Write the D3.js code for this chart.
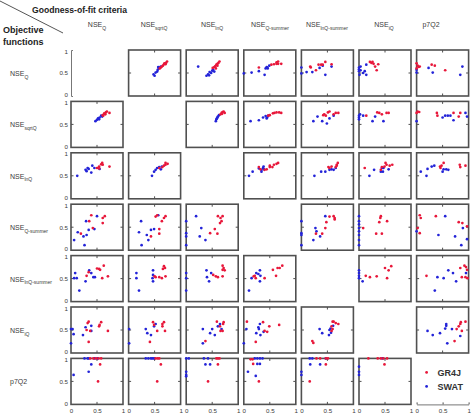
<!DOCTYPE html>
<html><head><meta charset="utf-8">
<script src="https://cdn.jsdelivr.net/npm/d3@7"></script>
<style>
body{margin:0;background:#fff;}
svg{display:block;font-family:"Liberation Sans",Arial,sans-serif;}
</style></head>
<body><svg id="chart" width="474" height="417"></svg>
<script>
// ---- metrics (rows = objective functions, columns = goodness-of-fit criteria)
const metricBase = ["NSE","NSE","NSE","NSE","NSE","NSE","p7Q2"];
const metricSub  = ["Q","sqrtQ","lnQ","Q-summer","lnQ-summer","iQ",""];
const axisTicks = [0, 0.5, 1];
const axisTickLabels = ["0","0.5","1"];
const seriesNames = ["GR4J","SWAT"];
const seriesColors = ["#e8173a","#2323d8"];

// ---- panel data: rRcC_gr = GR4J points, rRcC_sw = SWAT points, [x, y]
const r1c2_gr=[[0.74,0.75],[0.72,0.72],[0.70,0.70],[0.68,0.69],[0.66,0.66],[0.64,0.64],[0.62,0.62],[0.60,0.60],[0.71,0.69],[0.69,0.71]];
const r1c2_sw=[[0.60,0.62],[0.58,0.60],[0.56,0.57],[0.52,0.51],[0.48,0.47],[0.50,0.44],[0.62,0.64],[0.55,0.53],[0.57,0.63]];
const r1c3_gr=[[0.51,0.61],[0.54,0.63],[0.56,0.65],[0.58,0.68],[0.60,0.70],[0.62,0.72],[0.64,0.75],[0.60,0.66],[0.57,0.60]];
const r1c3_sw=[[0.23,0.64],[0.39,0.44],[0.42,0.47],[0.45,0.52],[0.48,0.50],[0.50,0.55],[0.52,0.57],[0.54,0.53],[0.44,0.45]];
const r1c4_gr=[[0.29,0.62],[0.53,0.68],[0.63,0.73],[0.66,0.70],[0.72,0.70],[0.66,0.75],[0.58,0.69],[0.63,0.70]];
const r1c4_sw=[[0.00,0.49],[0.15,0.51],[0.29,0.54],[0.40,0.46],[0.42,0.60],[0.44,0.63],[0.46,0.60],[0.49,0.66],[0.45,0.62]];
const r1c5_gr=[[0.17,0.64],[0.18,0.62],[0.28,0.56],[0.33,0.68],[0.38,0.68],[0.41,0.68],[0.46,0.74],[0.58,0.69]];
const r1c5_sw=[[0.00,0.62],[0.00,0.49],[0.10,0.52],[0.21,0.52],[0.35,0.61],[0.41,0.66],[0.46,0.46],[0.58,0.64]];
const r1c6_gr=[[0.21,0.74],[0.24,0.72],[0.28,0.70],[0.31,0.64],[0.37,0.69],[0.34,0.56],[0.26,0.74]];
const r1c6_sw=[[0.00,0.54],[0.00,0.58],[0.00,0.62],[0.03,0.64],[0.03,0.56],[0.01,0.46],[0.11,0.54],[0.14,0.68],[0.14,0.46],[0.08,0.50]];
const r1c7_gr=[[0.00,0.71],[0.02,0.66],[0.04,0.63],[0.00,0.60],[0.06,0.64],[0.29,0.68],[0.35,0.66],[0.55,0.56]];
const r1c7_sw=[[0.00,0.57],[0.00,0.51],[0.23,0.61],[0.31,0.51],[0.84,0.46],[0.88,0.64]];

const r2c1_gr=[[0.61,0.70],[0.64,0.74],[0.67,0.76],[0.69,0.78],[0.74,0.75],[0.62,0.69],[0.66,0.72]];
const r2c1_sw=[[0.47,0.57],[0.50,0.60],[0.52,0.63],[0.55,0.65],[0.58,0.69],[0.54,0.61],[0.60,0.67]];
const r2c3_gr=[[0.68,0.75],[0.70,0.77],[0.72,0.78],[0.74,0.75],[0.66,0.72],[0.69,0.73]];
const r2c3_sw=[[0.57,0.57],[0.58,0.61],[0.60,0.65],[0.61,0.67],[0.63,0.70],[0.59,0.63]];
const r2c4_gr=[[0.47,0.69],[0.50,0.70],[0.56,0.74],[0.59,0.75],[0.63,0.76],[0.68,0.76],[0.72,0.75]];
const r2c4_sw=[[0.13,0.57],[0.29,0.59],[0.37,0.65],[0.42,0.68],[0.44,0.63],[0.45,0.65],[0.47,0.69]];
const r2c5_gr=[[0.42,0.70],[0.44,0.72],[0.47,0.69],[0.51,0.76],[0.54,0.78],[0.62,0.72],[0.66,0.75],[0.71,0.75]];
const r2c5_sw=[[0.23,0.57],[0.31,0.67],[0.40,0.57],[0.49,0.52],[0.54,0.63],[0.62,0.69]];
const r2c6_gr=[[0.14,0.69],[0.35,0.76],[0.39,0.75],[0.44,0.72],[0.53,0.75],[0.57,0.75]];
const r2c6_sw=[[0.00,0.61],[0.00,0.65],[0.00,0.69],[0.02,0.72],[0.08,0.69],[0.26,0.57],[0.31,0.67],[0.47,0.57]];
const r2c7_gr=[[0.00,0.75],[0.02,0.78],[0.05,0.77],[0.39,0.75],[0.40,0.69],[0.71,0.75],[0.81,0.67],[0.84,0.75]];
const r2c7_sw=[[0.00,0.57],[0.50,0.65],[0.55,0.69],[0.60,0.69],[0.65,0.69],[0.71,0.59],[0.94,0.75],[0.97,0.67]];

const r3c1_gr=[[0.50,0.67],[0.54,0.70],[0.58,0.75],[0.61,0.74],[0.60,0.78],[0.74,0.70],[0.54,0.66]];
const r3c1_sw=[[0.12,0.50],[0.28,0.63],[0.30,0.60],[0.34,0.65],[0.39,0.57],[0.41,0.72],[0.45,0.67],[0.32,0.67],[0.55,0.65]];
const r3c2_gr=[[0.65,0.69],[0.68,0.72],[0.71,0.74],[0.75,0.76],[0.71,0.78],[0.59,0.67]];
const r3c2_sw=[[0.45,0.50],[0.49,0.59],[0.52,0.63],[0.55,0.67],[0.59,0.69],[0.62,0.64],[0.64,0.70]];
const r3c4_gr=[[0.29,0.69],[0.32,0.64],[0.40,0.63],[0.44,0.64],[0.50,0.69],[0.50,0.72],[0.55,0.69],[0.58,0.74],[0.63,0.76],[0.66,0.78]];
const r3c4_sw=[[0.10,0.50],[0.17,0.59],[0.29,0.66],[0.34,0.59],[0.34,0.63],[0.37,0.67],[0.39,0.64],[0.38,0.70]];
const r3c5_gr=[[0.52,0.69],[0.54,0.67],[0.58,0.70],[0.66,0.69],[0.68,0.74],[0.70,0.78],[0.68,0.72]];
const r3c5_sw=[[0.25,0.50],[0.38,0.59],[0.46,0.59],[0.54,0.63],[0.58,0.64],[0.62,0.63],[0.66,0.67]];
const r3c6_gr=[[0.11,0.67],[0.42,0.63],[0.44,0.69],[0.49,0.70],[0.51,0.78],[0.53,0.74],[0.59,0.72],[0.64,0.74]];
const r3c6_sw=[[0.20,0.50],[0.29,0.63],[0.42,0.59],[0.46,0.59],[0.44,0.67],[0.47,0.67],[0.57,0.64]];
const r3c7_gr=[[0.45,0.70],[0.46,0.67],[0.48,0.72],[0.52,0.78],[0.83,0.74],[0.84,0.69],[0.94,0.72]];
const r3c7_sw=[[0.08,0.59],[0.19,0.50],[0.21,0.65],[0.29,0.70],[0.34,0.72],[0.50,0.59],[0.52,0.64],[0.57,0.64],[0.61,0.63]];

const r4c1_gr=[[0.19,0.36],[0.35,0.63],[0.39,0.76],[0.42,0.48],[0.61,0.70],[0.65,0.74],[0.61,0.59]];
const r4c1_sw=[[0.06,0.22],[0.13,0.39],[0.26,0.11],[0.24,0.30],[0.30,0.33],[0.29,0.63],[0.45,0.46],[0.50,0.74],[0.34,0.44]];
const r4c2_gr=[[0.43,0.30],[0.52,0.73],[0.55,0.76],[0.59,0.46],[0.59,0.36],[0.64,0.63],[0.68,0.70],[0.71,0.74]];
const r4c2_sw=[[0.24,0.63],[0.20,0.39],[0.25,0.11],[0.35,0.33],[0.38,0.22],[0.49,0.46],[0.57,0.76],[0.43,0.44]];
const r4c3_gr=[[0.46,0.37],[0.55,0.46],[0.61,0.74],[0.66,0.70],[0.70,0.74],[0.68,0.63],[0.60,0.36],[0.65,0.59]];
const r4c3_sw=[[0.00,0.63],[0.00,0.37],[0.00,0.30],[0.00,0.11],[0.19,0.74],[0.26,0.30],[0.29,0.48],[0.37,0.22]];
const r4c5_gr=[[0.28,0.36],[0.40,0.36],[0.46,0.48],[0.48,0.61],[0.54,0.73],[0.62,0.74],[0.64,0.70],[0.64,0.67]];
const r4c5_sw=[[0.00,0.63],[0.00,0.37],[0.00,0.33],[0.00,0.11],[0.23,0.22],[0.27,0.48],[0.36,0.30],[0.46,0.74],[0.29,0.41]];
const r4c6_gr=[[0.08,0.48],[0.33,0.36],[0.44,0.36],[0.39,0.61],[0.41,0.70],[0.42,0.74],[0.54,0.63]];
const r4c6_sw=[[0,0.74],[0,0.63],[0,0.56],[0,0.48],[0,0.41],[0,0.33],[0,0.22],[0,0.11]];
const r4c7_gr=[[0.06,0.76],[0.08,0.70],[0.02,0.48],[0.06,0.37],[0.37,0.74],[0.81,0.61],[0.88,0.59],[0.97,0.52]];
const r4c7_sw=[[0.00,0.41],[0.55,0.74],[0.42,0.33],[0.89,0.48],[0.74,0.30],[0.86,0.11],[0.97,0.24]];

const r5c1_gr=[[0.30,0.56],[0.34,0.64],[0.50,0.72],[0.54,0.71],[0.56,0.69],[0.63,0.78],[0.60,0.51],[0.71,0.55]];
const r5c1_sw=[[0.08,0.62],[0.06,0.51],[0.11,0.51],[0.28,0.44],[0.16,0.24],[0.35,0.68],[0.39,0.62],[0.43,0.53],[0.46,0.53]];
const r5c2_gr=[[0.50,0.55],[0.52,0.53],[0.59,0.53],[0.64,0.51],[0.66,0.71],[0.68,0.77],[0.70,0.73],[0.71,0.55]];
const r5c2_sw=[[0.15,0.62],[0.15,0.51],[0.20,0.24],[0.47,0.68],[0.47,0.58],[0.47,0.44],[0.46,0.51]];
const r5c3_gr=[[0.52,0.58],[0.57,0.55],[0.61,0.53],[0.70,0.78],[0.72,0.73],[0.70,0.69],[0.74,0.68],[0.70,0.55]];
const r5c3_sw=[[0.00,0.62],[0.00,0.51],[0.00,0.24],[0.39,0.68],[0.40,0.53],[0.44,0.44],[0.48,0.62]];
const r5c4_gr=[[0.19,0.55],[0.21,0.56],[0.23,0.51],[0.40,0.51],[0.56,0.69],[0.62,0.56],[0.65,0.73],[0.69,0.73],[0.74,0.78]];
const r5c4_sw=[[0.10,0.24],[0.15,0.51],[0.24,0.62],[0.28,0.60],[0.31,0.68],[0.32,0.56],[0.31,0.44]];
const r5c6_gr=[[0.13,0.56],[0.21,0.53],[0.34,0.55],[0.50,0.73],[0.54,0.51],[0.57,0.68],[0.62,0.77]];
const r5c6_sw=[[0,0.68],[0,0.62],[0,0.56],[0,0.51],[0.07,0.44]];
const r5c7_gr=[[0.19,0.56],[0.84,0.73],[0.87,0.53],[0.92,0.78],[0.95,0.75],[0.97,0.69],[0.94,0.53],[0.98,0.51]];
const r5c7_sw=[[0.35,0.24],[0.40,0.53],[0.52,0.51],[0.61,0.68],[0.70,0.62],[0.76,0.44],[0.95,0.62]];

const r6c1_gr=[[0.30,0.50],[0.32,0.65],[0.34,0.68],[0.34,0.24],[0.37,0.48],[0.54,0.58],[0.55,0.61],[0.58,0.67],[0.71,0.48]];
const r6c1_sw=[[0.00,0.52],[0.03,0.52],[0.05,0.41],[0.00,0.21],[0.23,0.39],[0.28,0.56],[0.39,0.59],[0.39,0.48]];
const r6c2_gr=[[0.41,0.24],[0.47,0.67],[0.49,0.61],[0.55,0.48],[0.65,0.63],[0.68,0.67],[0.65,0.58],[0.70,0.48]];
const r6c2_sw=[[0.01,0.52],[0.01,0.21],[0.33,0.52],[0.36,0.43],[0.43,0.39],[0.49,0.58],[0.52,0.63]];
const r6c3_gr=[[0.37,0.26],[0.59,0.68],[0.65,0.58],[0.66,0.48],[0.71,0.63],[0.72,0.67],[0.70,0.48]];
const r6c3_sw=[[0.32,0.52],[0.32,0.21],[0.46,0.43],[0.50,0.52],[0.55,0.39],[0.61,0.58],[0.65,0.63],[0.68,0.52]];
const r6c4_gr=[[0.06,0.68],[0.23,0.24],[0.37,0.67],[0.40,0.48],[0.45,0.46],[0.49,0.58],[0.68,0.61]];
const r6c4_sw=[[0.05,0.52],[0.00,0.21],[0.24,0.43],[0.28,0.56],[0.29,0.52],[0.31,0.63],[0.32,0.39],[0.38,0.46]];
const r6c5_gr=[[0.21,0.26],[0.23,0.22],[0.58,0.58],[0.58,0.48],[0.60,0.68],[0.62,0.68],[0.66,0.65],[0.71,0.63],[0.60,0.52]];
const r6c5_sw=[[0.35,0.52],[0.40,0.43],[0.53,0.39],[0.54,0.50],[0.56,0.53],[0.61,0.59],[0.57,0.44]];
const r6c7_gr=[[0.73,0.26],[0.77,0.52],[0.81,0.58],[0.84,0.63],[0.85,0.67],[0.87,0.48],[0.94,0.68]];
const r6c7_sw=[[0.21,0.48],[0.31,0.39],[0.45,0.43],[0.55,0.53],[0.57,0.59],[0.57,0.63],[0.68,0.52],[0.59,0.21],[0.84,0.37]];

const r7c1_gr=[[0.37,1],[0.43,1],[0.48,1],[0.53,1],[0.58,1],[0.56,0.87],[0.52,0.50]];
const r7c1_sw=[[0.05,0.64],[0.26,1],[0.32,1],[0.34,0.71],[0.39,0.87],[0.45,1],[0.51,1],[0.34,1]];
const r7c2_gr=[[0.52,1],[0.56,1],[0.59,1],[0.62,0.87],[0.55,0.50]];
const r7c2_sw=[[0.33,1],[0.38,1],[0.43,1],[0.49,1],[0.46,1]];
const r7c3_gr=[[0.58,1],[0.61,1],[0.64,1],[0.61,0.87],[0.42,0.50]];
const r7c3_sw=[[0.00,1],[0.05,1],[0.00,0.71],[0.00,0.64],[0.00,0.61],[0.34,1],[0.42,1],[0.37,0.87],[0.46,0.87]];
const r7c4_gr=[[0.13,0.98],[0.17,0.98],[0.18,0.88],[0.29,0.50]];
const r7c4_sw=[[0.21,1],[0.26,1],[0.31,1],[0.36,1],[0.26,0.88],[0.31,0.88],[0.08,0.71],[0.23,0.62]];
const r7c5_gr=[[0.29,1],[0.36,1],[0.47,1],[0.51,1],[0.47,0.87],[0.16,0.50]];
const r7c5_sw=[[0,0.64],[0,0.71],[0.16,1],[0.21,1],[0.17,0.87],[0.36,0.87],[0.47,1]];
const r7c6_gr=[[0.18,1],[0.36,1],[0.42,1],[0.47,1],[0.54,1],[0.49,0.87]];
const r7c6_sw=[[0,0.64],[0,0.71],[0,0.82],[0.45,1]];

// lookup table built from the arrays above
const panelData = {
 "1,2":[r1c2_gr,r1c2_sw],"1,3":[r1c3_gr,r1c3_sw],"1,4":[r1c4_gr,r1c4_sw],"1,5":[r1c5_gr,r1c5_sw],"1,6":[r1c6_gr,r1c6_sw],"1,7":[r1c7_gr,r1c7_sw],
 "2,1":[r2c1_gr,r2c1_sw],"2,3":[r2c3_gr,r2c3_sw],"2,4":[r2c4_gr,r2c4_sw],"2,5":[r2c5_gr,r2c5_sw],"2,6":[r2c6_gr,r2c6_sw],"2,7":[r2c7_gr,r2c7_sw],
 "3,1":[r3c1_gr,r3c1_sw],"3,2":[r3c2_gr,r3c2_sw],"3,4":[r3c4_gr,r3c4_sw],"3,5":[r3c5_gr,r3c5_sw],"3,6":[r3c6_gr,r3c6_sw],"3,7":[r3c7_gr,r3c7_sw],
 "4,1":[r4c1_gr,r4c1_sw],"4,2":[r4c2_gr,r4c2_sw],"4,3":[r4c3_gr,r4c3_sw],"4,5":[r4c5_gr,r4c5_sw],"4,6":[r4c6_gr,r4c6_sw],"4,7":[r4c7_gr,r4c7_sw],
 "5,1":[r5c1_gr,r5c1_sw],"5,2":[r5c2_gr,r5c2_sw],"5,3":[r5c3_gr,r5c3_sw],"5,4":[r5c4_gr,r5c4_sw],"5,6":[r5c6_gr,r5c6_sw],"5,7":[r5c7_gr,r5c7_sw],
 "6,1":[r6c1_gr,r6c1_sw],"6,2":[r6c2_gr,r6c2_sw],"6,3":[r6c3_gr,r6c3_sw],"6,4":[r6c4_gr,r6c4_sw],"6,5":[r6c5_gr,r6c5_sw],"6,7":[r6c7_gr,r6c7_sw],
 "7,1":[r7c1_gr,r7c1_sw],"7,2":[r7c2_gr,r7c2_sw],"7,3":[r7c3_gr,r7c3_sw],"7,4":[r7c4_gr,r7c4_sw],"7,5":[r7c5_gr,r7c5_sw],"7,6":[r7c6_gr,r7c6_sw]
};

// ---- layout
const colX0 = 71, colStep = 57.6, pw = 52;
const rowY0 = 50, rowStep = 51.4, ph = 46;
const n = 7;
const boxColor = "#505050";
const txtColor = "#3a3a3a";

const svg = d3.select("#chart");
const x = d3.scaleLinear().domain([0,1]).range([0,pw]);
const y = d3.scaleLinear().domain([0,1]).range([ph,0]);
const fmt = d => axisTickLabels[axisTicks.indexOf(d)];

// corner: diagonal line and titles
svg.append("line").attr("x1",0).attr("y1",1).attr("x2",63).attr("y2",33)
  .attr("stroke","#555").attr("stroke-width",1);
svg.append("text").attr("x",32).attr("y",12.5).attr("font-size",8.6).attr("font-weight","bold")
  .attr("fill","#222").text("Goodness-of-fit criteria");
svg.append("text").attr("x",3).attr("y",33).attr("font-size",9).attr("font-weight","bold")
  .attr("fill","#222").text("Objective");
svg.append("text").attr("x",3).attr("y",45).attr("font-size",9).attr("font-weight","bold")
  .attr("fill","#222").text("functions");

function labelText(g, i, anchor){
  const t = g.append("text").attr("font-size",7).attr("fill",txtColor).attr("text-anchor",anchor);
  t.append("tspan").text(metricBase[i]);
  if(metricSub[i]) t.append("tspan").attr("font-size",5).attr("dy",2.5).text(metricSub[i]);
  return t;
}
// column headers
const headerX = [97,154,212,270,327,384,431];
for(let j=0;j<n;j++){
  labelText(svg.append("g").attr("transform",`translate(${headerX[j]},27)`), j, "middle");
}
// row labels
for(let i=0;i<n;i++){
  const cy = rowY0 + i*rowStep + ph/2 + 3;
  labelText(svg.append("g").attr("transform",`translate(10,${cy})`), i, "start");
}

function styleAxis(g){
  g.selectAll("text").attr("font-size",6.2).attr("fill",txtColor).attr("font-family","Liberation Sans, Arial, sans-serif");
  g.selectAll("line").attr("stroke",boxColor);
  g.selectAll(".domain").attr("stroke",boxColor);
}
// nudge end labels of left axes so the "0" of one row and the "1" of the next do not collide
function nudgeLeft(ax){
  ax.selectAll(".tick text").attr("y", d => d===0 ? -1.2 : (d===1 ? 1.2 : 0));
}

for(let i=0;i<n;i++){
  for(let j=0;j<n;j++){
    const g = svg.append("g").attr("transform",`translate(${colX0+j*colStep},${rowY0+i*rowStep})`);
    const key = (i+1)+","+(j+1);
    if(i===j){
      if(j===0){
        // empty diagonal in first column: bare y axis with labels
        const ax = g.append("g").call(d3.axisLeft(y).tickValues(axisTicks).tickFormat(fmt)
          .tickSizeInner(0).tickSizeOuter(-2).tickPadding(3));
        styleAxis(ax); nudgeLeft(ax);
        ax.select(".domain").attr("stroke","#777");
      }
      if(i===n-1){
        // legend panel with bottom axis
        const ax = g.append("g").attr("transform",`translate(0,${ph})`)
          .call(d3.axisBottom(x).tickValues(axisTicks).tickFormat(fmt).tickSizeInner(-2).tickSizeOuter(0).tickPadding(4));
        styleAxis(ax);
        ax.select(".domain").attr("stroke","#777");
        seriesNames.forEach((s,k)=>{
          g.append("circle").attr("cx",10).attr("cy",14+k*14).attr("r",1.4).attr("fill",seriesColors[k]);
          g.append("text").attr("x",21).attr("y",17.5+k*14).attr("font-size",9).attr("font-weight","bold")
            .attr("fill","#333").text(s);
        });
      }
      continue;
    }
    // box
    g.append("rect").attr("x",0).attr("y",0).attr("width",pw).attr("height",ph)
      .attr("fill","#fff").attr("stroke",boxColor).attr("stroke-width",1.6);
    // inner ticks at 0.5 on all sides
    const tl = 2.5;
    g.append("line").attr("x1",x(0.5)).attr("x2",x(0.5)).attr("y1",ph).attr("y2",ph-tl).attr("stroke",boxColor);
    g.append("line").attr("x1",x(0.5)).attr("x2",x(0.5)).attr("y1",0).attr("y2",tl).attr("stroke",boxColor);
    g.append("line").attr("x1",0).attr("x2",tl).attr("y1",y(0.5)).attr("y2",y(0.5)).attr("stroke",boxColor);
    g.append("line").attr("x1",pw).attr("x2",pw-tl).attr("y1",y(0.5)).attr("y2",y(0.5)).attr("stroke",boxColor);
    if(j===0){
      const ax = g.append("g").call(d3.axisLeft(y).tickValues(axisTicks).tickFormat(fmt).tickSize(0).tickPadding(3));
      ax.select(".domain").remove();
      styleAxis(ax); nudgeLeft(ax);
    }
    if(i===n-1){
      const ax = g.append("g").attr("transform",`translate(0,${ph})`)
        .call(d3.axisBottom(x).tickValues(axisTicks).tickFormat(fmt).tickSize(0).tickPadding(4));
      ax.select(".domain").remove();
      styleAxis(ax);
    }
    const pd = panelData[key];
    [1,0].forEach(k=>{
      g.selectAll(null).data(pd[k]).enter().append("circle")
        .attr("cx",d=>x(d[0])).attr("cy",d=>y(d[1])).attr("r",1.35)
        .attr("fill",seriesColors[k]);
    });
  }
}
</script>
</body></html>
